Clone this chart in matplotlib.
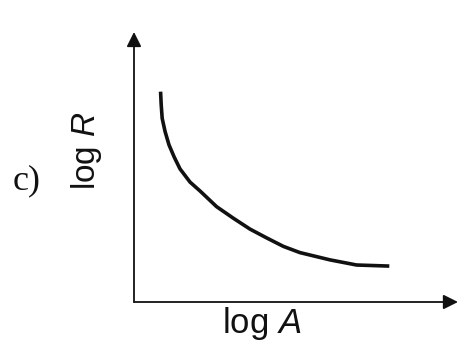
import numpy as np
import matplotlib.pyplot as plt

# sketch curve: log R falls as log A grows (arbitrary units)
log_a = np.array([0.82, 0.84, 0.87, 0.96, 1.08, 1.24, 1.42, 1.73, 2.04,
                  2.55, 3.07, 3.58, 4.10, 4.61, 5.12, 6.05, 6.87, 7.88])
log_r = np.array([7.79, 7.30, 6.80, 6.31, 5.82, 5.37, 4.93, 4.44, 4.11,
                  3.53, 3.10, 2.70, 2.37, 2.06, 1.83, 1.56, 1.37, 1.33])

plt.rcParams['font.family'] = 'Liberation Sans'
plt.rcParams['mathtext.fontset'] = 'custom'
plt.rcParams['mathtext.it'] = 'Liberation Sans:italic'
plt.rcParams['mathtext.rm'] = 'Liberation Sans'

fig = plt.figure(figsize=(4.74, 3.55), dpi=100)
ax = fig.add_axes([0.2827, 0.1493, 0.6835, 0.7606])
ax.set_xlim(0, 10)
ax.set_ylim(0, 10)
ax.axis('off')

ax.plot(log_a, log_r, color='#111111', lw=2.6, solid_capstyle='butt',
        solid_joinstyle='round')

# axes drawn as arrows
arrow = dict(arrowstyle='-|>', lw=1.3, color='#111111', mutation_scale=22,
             shrinkA=0, shrinkB=0)
ax.annotate('', xy=(1, 0), xytext=(0, 0), xycoords='axes fraction', arrowprops=arrow)
ax.annotate('', xy=(0, 1), xytext=(0, 0), xycoords='axes fraction', arrowprops=arrow)

fig.text(0.553, 0.062, 'log $A$', fontsize=25, ha='center', va='baseline', color='#111111')
fig.text(0.183, 0.577, 'log $R$', fontsize=24, ha='center', va='center',
         rotation=90, color='#111111')
fig.text(0.057, 0.49, 'c)', fontsize=26, family='Liberation Serif',
         ha='center', va='center', color='#111111')

fig.savefig('out.png', dpi=100)
